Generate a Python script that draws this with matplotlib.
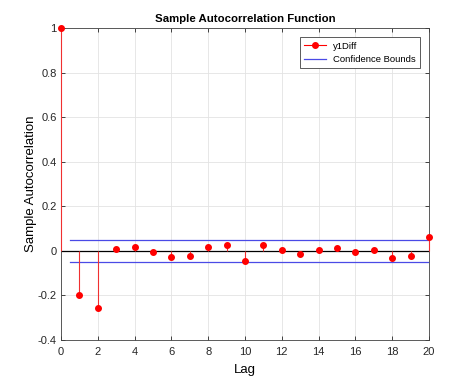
import matplotlib
matplotlib.use("Agg")
import matplotlib.pyplot as plt
import numpy as np

lags = list(range(0, 21))
acf = [1.0, -0.196, -0.257, 0.010, 0.018, -0.007, -0.028, -0.021, 0.019, 0.028,
       -0.045, 0.025, 0.006, -0.013, 0.003, 0.013, -0.007, 0.006, -0.034, -0.021, 0.064]
bound = 0.05
bound_x = [0.5, 20]
xticks = list(range(0, 21, 2))
yticks = [-0.4, -0.2, 0, 0.2, 0.4, 0.6, 0.8, 1]
ytick_labels = ["-0.4", "-0.2", "0", "0.2", "0.4", "0.6", "0.8", "1"]

plt.rcParams['font.family'] = ['Liberation Sans', 'DejaVu Sans']

fig = plt.figure(figsize=(4.74, 3.82), dpi=100)
ax = fig.add_axes([0.1287, 0.110, 0.7763, 0.8167])

ax.axhline(0, color='black', lw=0.9, zorder=2)
ml, sl, bl = ax.stem(lags, acf, linefmt='-', markerfmt='o', basefmt=' ')
plt.setp(sl, color='#f03030', lw=0.8, zorder=3, clip_on=False)
plt.setp(ml, color='#ff0000', markersize=4, zorder=4, clip_on=False)
stem_handle = ax.plot([], [], '-o', color='#ff0000', lw=0.8, markersize=4, label='y1Diff')[0]
bh = ax.plot(bound_x, [bound, bound], color='#4a4ae6', lw=0.9, label='Confidence Bounds')[0]
ax.plot(bound_x, [-bound, -bound], color='#4a4ae6', lw=0.9)

ax.set_xlim(0, 20)
ax.set_ylim(-0.4, 1)
ax.set_xticks(xticks)
ax.set_yticks(yticks)
ax.set_yticklabels(ytick_labels)
ax.tick_params(direction='in', top=True, right=True, labelsize=8, length=3, width=0.6,
               colors='#262626')
ax.tick_params(axis='x', pad=5)
ax.tick_params(axis='y', pad=3)
ax.grid(True, color='#e3e3e3', lw=0.6)
ax.set_axisbelow(True)
for s in ax.spines.values():
    s.set_color('#404040')
    s.set_linewidth(0.6)

ax.set_title('Sample Autocorrelation Function', fontsize=8.2, fontweight='bold', pad=4)
ax.set_xlabel('Lag', fontsize=9.5, labelpad=5)
ax.set_ylabel('Sample Autocorrelation', fontsize=9.5)
ax.yaxis.set_label_coords(-0.066, 0.5)

leg = ax.legend(handles=[stem_handle, bh], loc='upper right', fontsize=6.8,
                fancybox=False, framealpha=1, edgecolor='#404040',
                bbox_to_anchor=(0.976, 0.97), borderaxespad=0,
                handlelength=2.3, handletextpad=0.8, borderpad=0.45, labelspacing=0.45)
leg.get_frame().set_linewidth(0.6)

fig.savefig('out.png', dpi=100)
